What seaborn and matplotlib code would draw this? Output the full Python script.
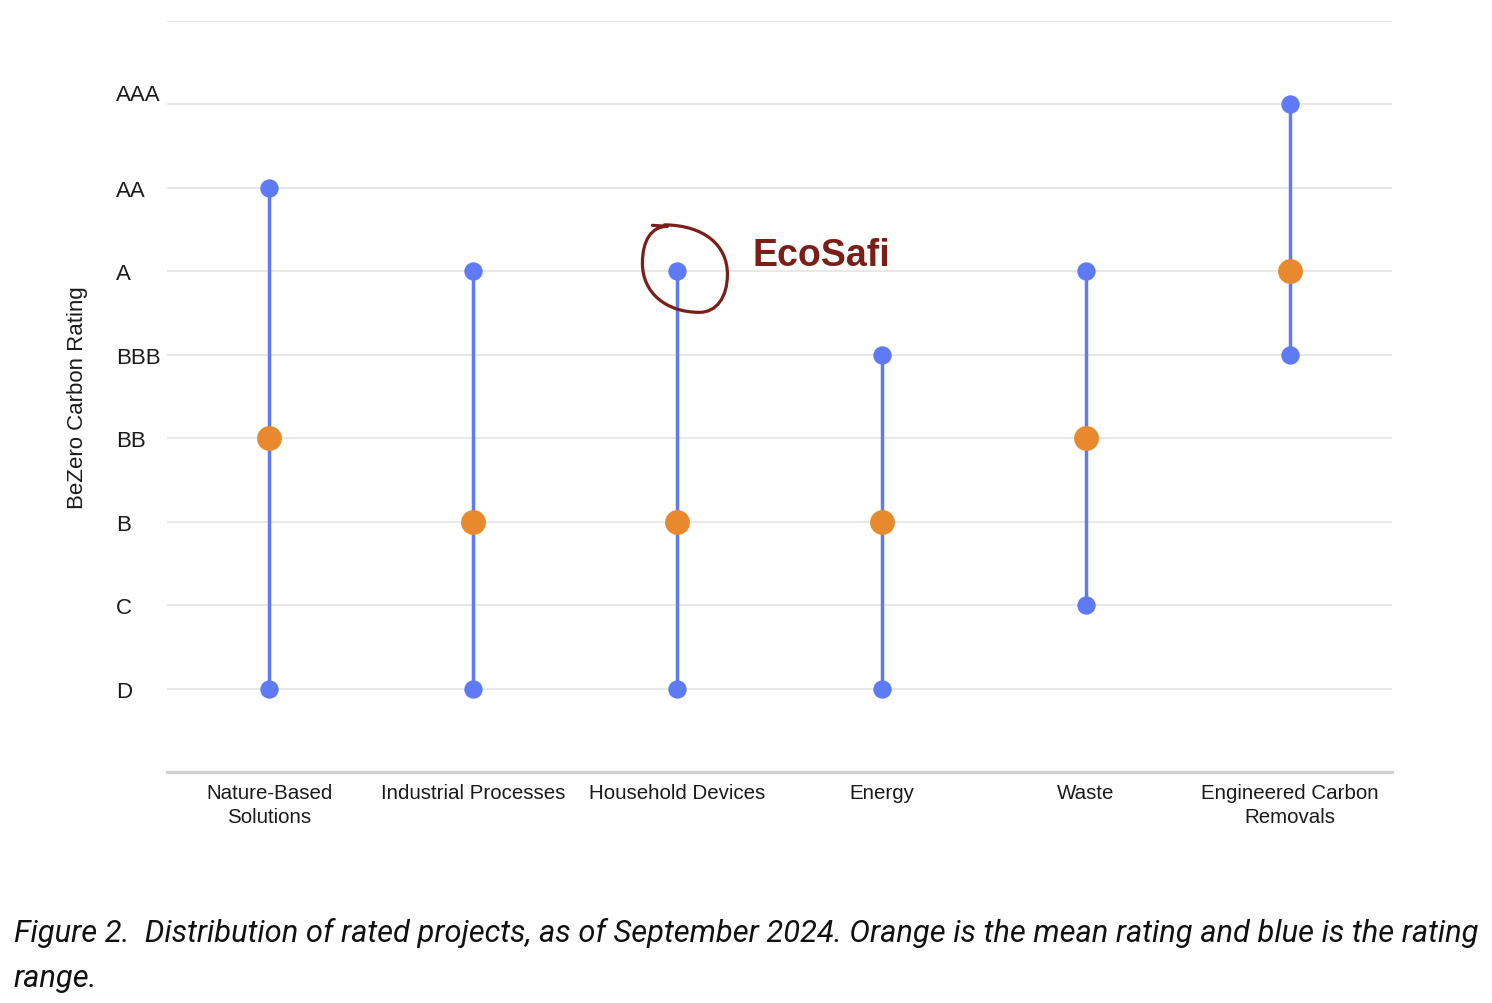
import numpy as np
import pandas as pd
import matplotlib
matplotlib.use("Agg")
import matplotlib.pyplot as plt
import matplotlib.transforms as mtransforms
from matplotlib.path import Path
from matplotlib.patches import PathPatch
import seaborn as sns

# ---------------- data ----------------
categories = ["Nature-Based Solutions", "Industrial Processes", "Household Devices",
              "Energy", "Waste", "Engineered Carbon Removals"]
tick_labels = ["Nature-Based\nSolutions", "Industrial Processes", "Household Devices",
               "Energy", "Waste", "Engineered Carbon\nRemovals"]
rating_labels = ["D", "C", "B", "BB", "BBB", "A", "AA", "AAA"]
min_rating = ["D", "D", "D", "D", "C", "BBB"]
max_rating = ["AA", "A", "A", "BBB", "A", "AAA"]
mean_rating = ["BB", "B", "B", "B", "BB", "A"]
highlight_category = "Household Devices"
highlight_rating = "A"
highlight_label = "EcoSafi"
y_title = "BeZero Carbon Rating"
caption_line1 = ("Figure 2.  Distribution of rated projects, as of September 2024. "
                 "Orange is the mean rating and blue is the rating")
caption_line2 = "range."

# ---------------- style ----------------
BLUE = "#5F7AF5"
ORANGE = "#E8892E"
DARKRED = "#7B1E17"
GRID = "#E2E2E2"
AXIS = "#D0D0D0"
TXT = "#1A1A1A"

sns.set_theme(style="white")
plt.rcParams["font.family"] = ["Liberation Sans", "DejaVu Sans"]

score = {r: i for i, r in enumerate(rating_labels)}
mins = [score[r] for r in min_rating]
maxs = [score[r] for r in max_rating]
means = [score[r] for r in mean_rating]

df_range = pd.DataFrame({
    "category": [c for c in categories for _ in range(2)],
    "score": [v for pair in zip(mins, maxs) for v in pair],
})
df_mean = pd.DataFrame({"category": categories, "score": means})

W, H, DPI = 1492, 1004, 100
fig = plt.figure(figsize=(W / DPI, H / DPI), dpi=DPI)
fig.patch.set_facecolor("white")
ax = fig.add_axes([167 / W, 1 - 773 / H, (1392 - 167) / W, (773 - 22) / H])

# range endpoints, range lines, means
sns.scatterplot(data=df_range, x="category", y="score", color=BLUE, s=175,
                linewidth=0, zorder=4, ax=ax, legend=False)
ax.vlines(categories, mins, maxs, color=BLUE, linewidth=2.5, zorder=3)
sns.scatterplot(data=df_mean, x="category", y="score", color=ORANGE, s=320,
                linewidth=0, zorder=5, ax=ax, legend=False)

ax.set_xlim(-0.5, len(categories) - 0.5)
ax.set_ylim(-1, len(rating_labels))

# grid
ax.set_yticks(range(len(rating_labels) + 1), labels=rating_labels + [""], ha="left")
ax.grid(False)
for yv in range(len(rating_labels) + 1):
    ax.axhline(yv, color=GRID, linewidth=1.1, zorder=1)

ax.set_xticks(range(len(categories)), labels=tick_labels)
ax.tick_params(axis="y", length=0, pad=36.5, labelsize=16, labelcolor=TXT)
ax.tick_params(axis="x", length=0, pad=8, labelsize=14.8, labelcolor=TXT)
for lab in ax.get_xticklabels():
    lab.set_linespacing(1.35)

for side in ["top", "right", "left"]:
    ax.spines[side].set_visible(False)
ax.spines["bottom"].set_color(AXIS)
ax.spines["bottom"].set_linewidth(2.3)

ax.set_xlabel("")
ax.set_ylabel(y_title, fontsize=16, color=TXT)
ax.yaxis.set_label_coords((88 - 167) / (1392 - 167), 0.5)

# AAA label sits slightly above its line
for lab in ax.get_yticklabels():
    if lab.get_text() == "AAA":
        lab.set_transform(lab.get_transform() +
                          mtransforms.ScaledTranslation(0, 12 / DPI, fig.dpi_scale_trans))

# hand-drawn highlight circle around household max point
hx = categories.index(highlight_category)
hy = score[highlight_rating]
pt = [(-25, -46), (-10, -45),
      (-26, -45), (-35, -31), (-35, -8),
      (-35, 21), (-12, 41), (22, 41),
      (39, 41), (50, 26), (50, 3),
      (50, -26), (27, -46), (-13, -46.5)]
codes = [Path.MOVETO, Path.LINETO] + [Path.CURVE4] * 12
verts = [(x, -y) for x, y in pt]
circ_trans = mtransforms.Affine2D() + mtransforms.ScaledTranslation(hx, hy, ax.transData)
patch = PathPatch(Path(verts, codes), facecolor="none", edgecolor=DARKRED,
                  linewidth=2.3, capstyle="round", joinstyle="round",
                  transform=circ_trans, zorder=6, clip_on=False)
ax.add_patch(patch)

ax.annotate(highlight_label, xy=(hx, hy), xycoords="data",
            xytext=(75, 6), textcoords="offset pixels",
            fontsize=27, fontweight="bold", color=DARKRED,
            ha="left", va="baseline", zorder=7)

# caption
cap_font = ["Roboto", "DejaVu Sans"]
c1 = fig.text(14 / W, 1 - 942 / H, caption_line1, fontsize=19, style="italic",
              family=cap_font, color="#111111", ha="left", va="baseline")
c2 = fig.text(14 / W, 1 - 987 / H, caption_line2, fontsize=19, style="italic",
              family=cap_font, color="#111111", ha="left", va="baseline")
fig.canvas.draw()
r = fig.canvas.get_renderer()
wpx = c1.get_window_extent(r).width
fs = 19 * (1466 / wpx)
c1.set_fontsize(fs)
c2.set_fontsize(fs)

fig.savefig("out.png", dpi=DPI, facecolor="white")
